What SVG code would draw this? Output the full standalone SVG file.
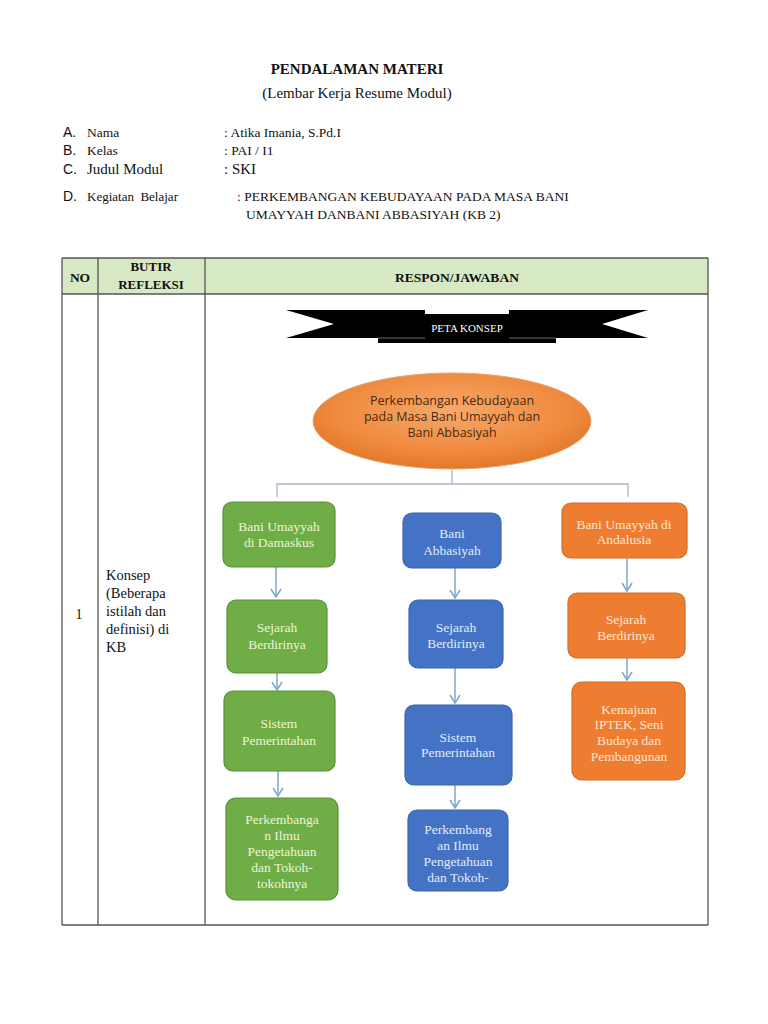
<svg xmlns="http://www.w3.org/2000/svg" width="768" height="1024" viewBox="0 0 768 1024">
<style>
.t{font-family:"Liberation Serif","Times New Roman",serif;fill:#111}
.a{font-family:"Liberation Sans",Arial,sans-serif;fill:#111}
.b{font-weight:bold}
.box text{font-family:"Liberation Serif",Cambria,serif;font-size:13.5px;text-anchor:middle}
.g rect{fill:#6fad46;stroke:#5a8f38;stroke-width:1.2}
.g text{fill:#eef3d8}
.bl rect{fill:#4473c5;stroke:#3b64ad;stroke-width:1.2}
.bl text{fill:#e3eaf8}
.o rect{fill:#ee7d31;stroke:#d56c25;stroke-width:1.2}
.o text{fill:#fde6d2}
.grid line{stroke:#555;stroke-width:1.3}
.arr{stroke:#7ea6d0;stroke-width:1.5;fill:none;marker-end:url(#ah)}
.br{stroke:#a9b8c8;stroke-width:1.3;fill:none}
</style>
<defs>
<marker id="ah" markerWidth="10" markerHeight="12" refX="9" refY="6" orient="auto" markerUnits="userSpaceOnUse" viewBox="0 0 10 12">
<path d="M1,1 L9,6 L1,11" fill="none" stroke="#7ea6d0" stroke-width="1.5"/>
</marker>
<radialGradient id="og" cx="0.5" cy="0.4" r="0.6">
<stop offset="0" stop-color="#f6a86a"/>
<stop offset="0.7" stop-color="#ef8a3e"/>
<stop offset="1" stop-color="#e2772a"/>
</radialGradient>
</defs>
<rect width="768" height="1024" fill="#fff"/>

<g id="header">
<text class="t b" x="357" y="74" font-size="15" text-anchor="middle">PENDALAMAN MATERI</text>
<text class="t" x="357" y="98" font-size="15" text-anchor="middle">(Lembar Kerja Resume Modul)</text>
<text class="a" x="63" y="137" font-size="14">A.</text><text class="t" x="87" y="137" font-size="13.5">Nama</text>
<text class="t" x="224" y="137" font-size="13.5">: Atika Imania, S.Pd.I</text>
<text class="a" x="63" y="155" font-size="14">B.</text><text class="t" x="87" y="155" font-size="13.5">Kelas</text>
<text class="t" x="224" y="155" font-size="13.5">: PAI / I1</text>
<text class="a" x="63" y="174" font-size="14">C.</text><text class="t" x="87" y="174" font-size="15">Judul Modul</text>
<text class="t" x="224" y="174" font-size="15">: SKI</text>
<text class="a" x="63" y="201" font-size="14">D.</text><text class="t" x="87" y="201" font-size="13" xml:space="preserve">Kegiatan  Belajar</text>
<text class="t" x="237" y="201" font-size="13.5">: PERKEMBANGAN KEBUDAYAAN PADA MASA BANI</text>
<text class="t" x="246" y="219" font-size="13.5">UMAYYAH DANBANI ABBASIYAH (KB 2)</text>
</g>

<g id="table">
<rect x="62" y="258" width="646" height="36" fill="#d7e8c4"/>
<g class="grid">
<line x1="62" y1="258" x2="708" y2="258"/>
<line x1="62" y1="294" x2="708" y2="294"/>
<line x1="62" y1="925" x2="708" y2="925"/>
<line x1="62" y1="258" x2="62" y2="925"/>
<line x1="98" y1="258" x2="98" y2="925"/>
<line x1="205" y1="258" x2="205" y2="925"/>
<line x1="708" y1="258" x2="708" y2="925"/>
</g>
<text class="t b" x="80" y="282" font-size="13.5" text-anchor="middle">NO</text>
<text class="t b" x="151" y="271" font-size="13" text-anchor="middle">BUTIR</text>
<text class="t b" x="151" y="289" font-size="13" text-anchor="middle">REFLEKSI</text>
<text class="t b" x="457" y="282" font-size="13.5" text-anchor="middle">RESPON/JAWABAN</text>
<text class="t" x="79" y="619" font-size="14" text-anchor="middle">1</text>
<text class="t" x="106" y="580" font-size="14.5">Konsep</text>
<text class="t" x="106" y="598" font-size="14.5">(Beberapa</text>
<text class="t" x="106" y="616" font-size="14.5">istilah dan</text>
<text class="t" x="106" y="634" font-size="14.5">definisi) di</text>
<text class="t" x="106" y="652" font-size="14.5">KB</text>
</g>

<g id="ribbon">
<polygon points="286,310 425,310 425,338 286,338 334,324" fill="#000"/>
<polygon points="648,310 509,310 509,338 648,338 602,324" fill="#000"/>
<rect x="378" y="314" width="178" height="29" fill="#000"/>
<line x1="378" y1="338" x2="425" y2="338" stroke="#888" stroke-width="0.8"/>
<line x1="509" y1="338" x2="556" y2="338" stroke="#888" stroke-width="0.8"/>
<text x="467" y="332" font-family="'Liberation Serif',Cambria,serif" font-size="11" fill="#fff" text-anchor="middle">PETA KONSEP</text>
</g>

<g id="root">
<ellipse cx="452" cy="421" rx="139" ry="48" fill="url(#og)" stroke="#e9a46a" stroke-width="1"/>
<g font-family="'Open Sans','Noto Sans',sans-serif" font-size="12.5" fill="#4a2a10" text-anchor="middle">
<text x="452" y="405">Perkembangan Kebudayaan</text>
<text x="452" y="421">pada Masa Bani Umayyah dan</text>
<text x="452" y="437">Bani Abbasiyah</text>
</g>
</g>

<g id="connectors">
<path class="br" d="M452,470 V484 M277,497 V484 H628 V497"/>
<line class="arr" x1="276" y1="567" x2="276" y2="597"/>
<line class="arr" x1="277" y1="673" x2="277" y2="690"/>
<line class="arr" x1="278" y1="771" x2="278" y2="796"/>
<line class="arr" x1="455" y1="568" x2="455" y2="598"/>
<line class="arr" x1="455" y1="668" x2="455" y2="703"/>
<line class="arr" x1="455" y1="785" x2="455" y2="808"/>
<line class="arr" x1="627" y1="558" x2="627" y2="591"/>
<line class="arr" x1="627" y1="640" x2="627" y2="680"/>
</g>

<g id="g1" class="box g"><rect x="223" y="502" width="112" height="65" rx="9"/><text x="279" y="531">Bani Umayyah</text><text x="279" y="547">di Damaskus</text></g>
<g id="g2" class="box g"><rect x="227" y="600" width="100" height="73" rx="9"/><text x="277" y="632">Sejarah</text><text x="277" y="649">Berdirinya</text></g>
<g id="g3" class="box g"><rect x="224" y="691" width="111" height="80" rx="9"/><text x="279" y="728">Sistem</text><text x="279" y="745">Pemerintahan</text></g>
<g id="g4" class="box g"><rect x="226" y="798" width="112" height="102" rx="10"/><text x="282" y="824">Perkembanga</text><text x="282" y="840">n Ilmu</text><text x="282" y="856">Pengetahuan</text><text x="282" y="872">dan Tokoh-</text><text x="282" y="888">tokohnya</text></g>

<g id="b1" class="box bl"><rect x="403" y="513" width="98" height="55" rx="9"/><text x="452" y="538">Bani</text><text x="452" y="555">Abbasiyah</text></g>
<g id="b2" class="box bl"><rect x="409" y="600" width="94" height="68" rx="9"/><text x="456" y="632">Sejarah</text><text x="456" y="648">Berdirinya</text></g>
<g id="b3" class="box bl"><rect x="405" y="705" width="107" height="80" rx="9"/><text x="458" y="742">Sistem</text><text x="458" y="757">Pemerintahan</text></g>
<g id="b4" class="box bl"><rect x="408" y="810" width="100" height="81" rx="9"/><text x="458" y="834">Perkembang</text><text x="458" y="850">an Ilmu</text><text x="458" y="866">Pengetahuan</text><text x="458" y="882">dan Tokoh-</text></g>

<g id="o1" class="box o"><rect x="562" y="503" width="125" height="55" rx="9"/><text x="624" y="529">Bani Umayyah di</text><text x="624" y="544">Andalusia</text></g>
<g id="o2" class="box o"><rect x="568" y="593" width="117" height="65" rx="9"/><text x="626" y="624">Sejarah</text><text x="626" y="640">Berdirinya</text></g>
<g id="o3" class="box o"><rect x="572" y="682" width="113" height="98" rx="10"/><text x="629" y="714">Kemajuan</text><text x="629" y="729">IPTEK, Seni</text><text x="629" y="745">Budaya dan</text><text x="629" y="761">Pembangunan</text></g>
</svg>
